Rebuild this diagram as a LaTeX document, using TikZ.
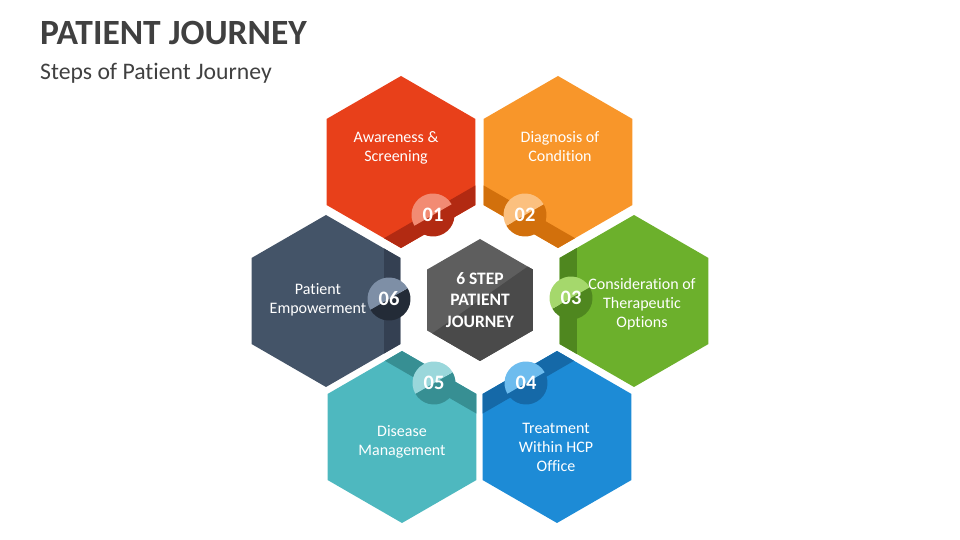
\documentclass[tikz,border=0pt]{standalone}
\usepackage{fontspec}
\setmainfont{Carlito}[RawFeature={-liga;-clig;-calt;-dlig}]
\usetikzlibrary{positioning,calc}
\usepackage{xcolor}

\definecolor{headgray}{HTML}{404040}
\definecolor{awarefill}{HTML}{E8401A}
\definecolor{awareband}{HTML}{B22A12}
\definecolor{awarelight}{HTML}{F28B73}
\definecolor{diagfill}{HTML}{F8962A}
\definecolor{diagband}{HTML}{D2700C}
\definecolor{diaglight}{HTML}{FBC07F}
\definecolor{consfill}{HTML}{6CB02C}
\definecolor{consband}{HTML}{4F871F}
\definecolor{conslight}{HTML}{A5D86C}
\definecolor{treatfill}{HTML}{1D8BD6}
\definecolor{treatband}{HTML}{1569A8}
\definecolor{treatlight}{HTML}{6DBCEE}
\definecolor{disfill}{HTML}{4EB8BF}
\definecolor{disband}{HTML}{378F93}
\definecolor{dislight}{HTML}{9AD7DB}
\definecolor{empfill}{HTML}{445468}
\definecolor{empband}{HTML}{344052}
\definecolor{emplight}{HTML}{7E8FA6}
\definecolor{empdark}{HTML}{232B37}
\definecolor{hublight}{HTML}{5E5E5E}
\definecolor{hubdark}{HTML}{4A4A4A}

\tikzset{
  hex/.style={insert path={(90:#1) -- (30:#1) -- (-30:#1) -- (-90:#1) -- (-150:#1) -- (150:#1) -- cycle}},
  band/.style={insert path={(57.5,-100) -- (80,-100) -- (80,100) -- (57.5,100) -- cycle}},
  steptext/.style={text=white, align=center, font=\fontsize{16}{19}\selectfont},
  badgetext/.style={text=white, font=\bfseries\fontsize{20.5}{24}\selectfont},
}

\begin{document}
\begin{tikzpicture}[x=1pt, y=1pt]
    \useasboundingbox (0,0) rectangle (960,540);

    % Heading
    \node[anchor=base west, inner sep=0, text=headgray, font=\bfseries\fontsize{35.5}{40}\selectfont] (title) at (40,495) {PATIENT JOURNEY};
    \node[anchor=base west, inner sep=0, text=headgray, font=\fontsize{23.7}{28}\selectfont] (subtitle) at (40,460) {Steps of Patient Journey};

    % Awareness (01)
    \begin{scope}[shift={(401,378)}]
        \fill[awarefill, hex=86];
        \begin{scope}
            \clip[hex=86];
            \fill[awareband, rotate=300, band];
        \end{scope}
    \end{scope}
    % Diagnosis (02)
    \begin{scope}[shift={(558,378)}]
        \fill[diagfill, hex=86];
        \begin{scope}
            \clip[hex=86];
            \fill[diagband, rotate=240, band];
        \end{scope}
    \end{scope}
    % Consideration (03)
    \begin{scope}[shift={(634,239)}]
        \fill[consfill, hex=86];
        \begin{scope}
            \clip[hex=86];
            \fill[consband, rotate=180, band];
        \end{scope}
    \end{scope}
    % Treatment (04)
    \begin{scope}[shift={(557,103)}]
        \fill[treatfill, hex=86];
        \begin{scope}
            \clip[hex=86];
            \fill[treatband, rotate=120, band];
        \end{scope}
    \end{scope}
    % Disease management (05)
    \begin{scope}[shift={(402,103)}]
        \fill[disfill, hex=86];
        \begin{scope}
            \clip[hex=86];
            \fill[disband, rotate=60, band];
        \end{scope}
    \end{scope}
    % Empowerment (06)
    \begin{scope}[shift={(326,239)}]
        \fill[empfill, hex=86];
        \begin{scope}
            \clip[hex=86];
            \fill[empband, band];
        \end{scope}
    \end{scope}

    % Hub
    \begin{scope}[shift={(480,240)}]
        \fill[hublight, hex=61];
        \begin{scope}
            \clip[hex=61];
            \fill[hubdark, rotate=35] (-100,0) -- (100,0) -- (100,-100) -- (-100,-100) -- cycle;
        \end{scope}
    \end{scope}
    \node[steptext, font=\bfseries\fontsize{17.5}{21.5}\selectfont] (hub) at (480,240) {6 STEP\\PATIENT\\JOURNEY};

    % Badges
    \begin{scope}[shift={(433,325)}]
        \fill[awareband] (210:21.5) arc[start angle=210, end angle=390, radius=21.5] -- cycle;
        \fill[awarelight] (30:21.5) arc[start angle=30, end angle=210, radius=21.5] -- cycle;
        \node[badgetext] (n1) at (0,0) {01};
    \end{scope}
    \begin{scope}[shift={(525,325)}]
        \fill[diagband] (210:21.5) arc[start angle=210, end angle=390, radius=21.5] -- cycle;
        \fill[diaglight] (30:21.5) arc[start angle=30, end angle=210, radius=21.5] -- cycle;
        \node[badgetext] (n2) at (0,0) {02};
    \end{scope}
    \begin{scope}[shift={(571,242)}]
        \fill[consband] (210:21.5) arc[start angle=210, end angle=390, radius=21.5] -- cycle;
        \fill[conslight] (30:21.5) arc[start angle=30, end angle=210, radius=21.5] -- cycle;
        \node[badgetext] (n3) at (0,0) {03};
    \end{scope}
    \begin{scope}[shift={(526,157)}]
        \fill[treatband] (210:21.5) arc[start angle=210, end angle=390, radius=21.5] -- cycle;
        \fill[treatlight] (30:21.5) arc[start angle=30, end angle=210, radius=21.5] -- cycle;
        \node[badgetext] (n4) at (0,0) {04};
    \end{scope}
    \begin{scope}[shift={(434,157)}]
        \fill[disband] (210:21.5) arc[start angle=210, end angle=390, radius=21.5] -- cycle;
        \fill[dislight] (30:21.5) arc[start angle=30, end angle=210, radius=21.5] -- cycle;
        \node[badgetext] (n5) at (0,0) {05};
    \end{scope}
    \begin{scope}[shift={(389,241)}]
        \fill[empdark] (210:21.5) arc[start angle=210, end angle=390, radius=21.5] -- cycle;
        \fill[emplight] (30:21.5) arc[start angle=30, end angle=210, radius=21.5] -- cycle;
        \node[badgetext] (n6) at (0,0) {06};
    \end{scope}

    % Step labels
    \node[steptext] (aware) at (396,392) {Awareness \&\\Screening};
    \node[steptext] (diag) at (560,393) {Diagnosis of\\Condition};
    \node[steptext] (cons) at (642,236) {Consideration of\\Therapeutic\\Options};
    \node[steptext] (treat) at (556,93) {Treatment\\Within HCP\\Office};
    \node[steptext] (disease) at (402,98) {Disease\\Management};
    \node[steptext] (empower) at (318,240) {Patient\\Empowerment};
\end{tikzpicture}
\end{document}
